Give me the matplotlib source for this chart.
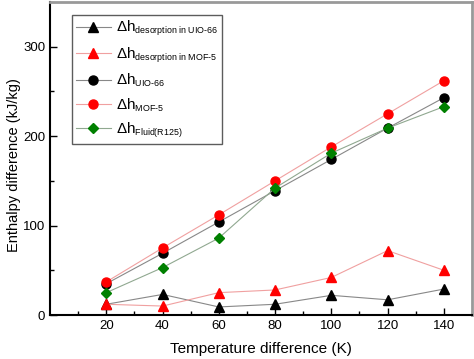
import matplotlib
matplotlib.use("Agg")
import matplotlib.pyplot as plt
import matplotlib._mathtext as _mt

_mt.SHRINK_FACTOR = 0.58

plt.rcParams['font.family'] = ['Liberation Sans', 'DejaVu Sans']
plt.rcParams['mathtext.fontset'] = 'custom'
plt.rcParams['mathtext.rm'] = 'Liberation Sans'
plt.rcParams['mathtext.it'] = 'Liberation Sans'
plt.rcParams['mathtext.default'] = 'regular'

temps = [20, 40, 60, 80, 100, 120, 140]
des_uio66 = [12, 23, 9, 12, 22, 17, 29]
des_mof5 = [12, 10, 25, 28, 42, 72, 50]
h_uio66 = [35, 69, 104, 139, 174, 209, 243]
h_mof5 = [37, 75, 112, 150, 188, 225, 262]
h_fluid = [25, 53, 86, 142, 181, 209, 233]

labels = [r'$\Delta h_{\text{desorption in UIO-66}}$',
          r'$\Delta h_{\text{desorption in MOF-5}}$',
          r'$\Delta h_{\text{UIO-66}}$',
          r'$\Delta h_{\text{MOF-5}}$',
          r'$\Delta h_{\text{Fluid(R125)}}$']

fig = plt.figure(figsize=(4.74, 3.59), dpi=100)
ax = fig.add_axes([50/474, 44/359, 422/474, 313/359])

series = [
    (des_uio66, '^', 'black', '#888888'),
    (des_mof5, '^', 'red', '#f0a0a0'),
    (h_uio66, 'o', 'black', '#888888'),
    (h_mof5, 'o', 'red', '#f0a0a0'),
    (h_fluid, 'D', 'green', '#90a890'),
]
for (vals, m, c, lc), lab in zip(series, labels):
    ms = 6.5 if m != 'D' else 5.5
    ax.plot(temps, vals, color=lc, lw=0.8, marker=m, markersize=ms,
            markerfacecolor=c, markeredgecolor=c, label=lab)

ax.set_xlim(0, 150)
ax.set_ylim(0, 350)
ax.set_xticks([20, 40, 60, 80, 100, 120, 140])
ax.set_xticks([10, 30, 50, 70, 90, 110, 130], minor=True)
ax.set_yticks([0, 100, 200, 300])
ax.set_yticks([50, 150, 250], minor=True)
ax.tick_params(axis='both', which='both', direction='in', labelsize=9.5)
ax.tick_params(which='major', length=5, width=1)
ax.tick_params(which='minor', length=3, width=1)
for s in ['left', 'bottom']:
    ax.spines[s].set_linewidth(1.5)
    ax.spines[s].set_color('black')
for s in ['top', 'right']:
    ax.spines[s].set_linewidth(2)
    ax.spines[s].set_color('#999999')

ax.set_xlabel('Temperature difference (K)', fontsize=11, labelpad=7)
ax.set_ylabel('Enthalpy difference (kJ/kg)', fontsize=10.5)
ax.yaxis.set_label_coords(-29/422, 0.48)

leg = ax.legend(loc='upper left', bbox_to_anchor=(22/422, 1 - 13/313),
                fontsize=11, frameon=True, fancybox=False, edgecolor='#333333',
                handlelength=2.3, labelspacing=0.45, borderpad=0.25,
                handletextpad=0.35, borderaxespad=0)
leg.get_frame().set_linewidth(1.0)

fig.savefig('out.png', dpi=100)
